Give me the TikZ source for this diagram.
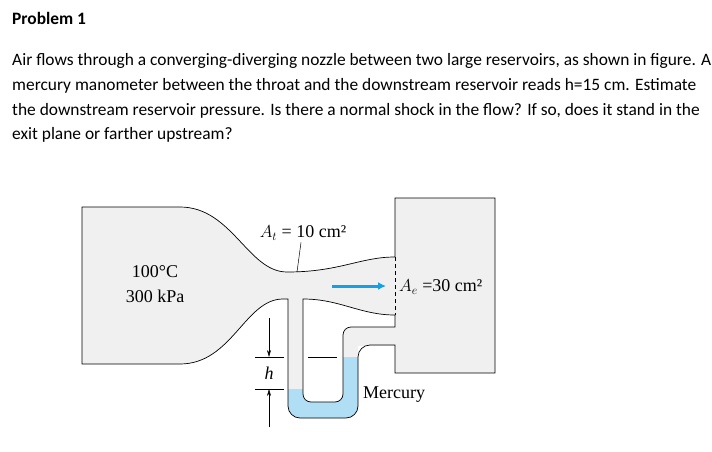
\documentclass[tikz,border=0pt]{standalone}
\usepackage{fontspec}
\setmainfont{Carlito}
\newfontfamily\figfont{Liberation Serif}
\usetikzlibrary{arrows.meta,positioning}
\definecolor{flowblue}{RGB}{20,160,230}
\definecolor{hgblue}{RGB}{175,222,245}

\begin{document}
\begin{tikzpicture}[x=1pt,y=-1pt]
    \tikzstyle{para} = [anchor=west, inner sep=0pt, font=\fontsize{17.4}{20}\selectfont]
    \tikzstyle{lbl} = [inner sep=1pt, font=\figfont\fontsize{18}{20}\selectfont]
    \tikzstyle{wall} = [draw, line width=0.7pt]
    \tikzstyle{dim} = [draw, line width=0.5pt, -{Stealth[length=7pt,width=4pt]}]

    \useasboundingbox (0,0) rectangle (712,452);

    % problem text
    \node[para] (title) at (12,18) {\textbf{Problem 1}};
    \node[para] (l1) at (12,61) {Air flows through a converging-diverging nozzle between two large reservoirs, as shown in figure. A};
    \node[para] (l2) at (12,86) {mercury manometer between the throat and the downstream reservoir reads h=15 cm. Estimate};
    \node[para] (l3) at (12,111) {the downstream reservoir pressure. Is there a normal shock in the flow? If so, does it stand in the};
    \node[para] (l4) at (12,135) {exit plane or farther upstream?};

    % gas region
    \fill[black!6]
        (82,207) -- (180,207) .. controls (232,207) and (248,272) .. (287,272)
        .. controls (340,272) and (360,257) .. (395,257) -- (395,198) -- (495,198)
        -- (495,373) -- (395,373) -- (395,315)
        .. controls (360,315) and (340,299) .. (303,299)
        -- (283,299) .. controls (245,299) and (232,364) .. (180,364) -- (82,364) -- cycle;
    \fill[black!6] (288,298) rectangle (303,390);
    \fill[black!6] (343,326) rectangle (395,346);
    \fill[black!6] (343,330) rectangle (358,358);

    % mercury
    \fill[hgblue]
        (288,389) [rounded corners=12pt] -- (288,418) -- (358,418) [sharp corners] -- (358,357) -- (343,357)
        [rounded corners=8pt] -- (343,402) -- (303,402) [sharp corners] -- (303,389) -- cycle;
    \fill[white]
        (303,299) .. controls (340,299) and (360,315) .. (395,315) -- (395,327)
        [rounded corners=8pt] -- (343,327) -- (343,402) -- (303,402) [sharp corners] -- cycle;

    % walls
    \path[wall] (395,257) -- (395,198) -- (495,198) -- (495,373) -- (395,373) -- (395,345)
        [rounded corners=12pt] -- (358,345) -- (358,418) -- (288,418) [sharp corners] -- (288,299)
        -- (283,299) .. controls (245,299) and (232,364) .. (180,364) -- (82,364) -- (82,207)
        -- (180,207) .. controls (232,207) and (248,272) .. (287,272)
        .. controls (340,272) and (360,257) .. (395,257);
    \path[wall] (303,299) .. controls (340,299) and (360,315) .. (395,315) -- (395,327)
        [rounded corners=8pt] -- (343,327) -- (343,402) -- (303,402) [sharp corners] -- cycle;
    \draw[line width=0.5pt, dash pattern=on 4pt off 3pt] (395,257) -- (395,315);

    % flow arrow
    \coordinate (flowA) at (332,286);
    \coordinate (flowB) at (386,286);
    \draw[flowblue, line width=3pt, -{Latex[length=8pt,width=8pt]}] (flowA) -- (flowB);

    % h dimension
    \draw[line width=0.5pt] (255,357) -- (284,357) (308,357) -- (337,357) (255,389) -- (284,389);
    \coordinate (hTop) at (269,318);
    \coordinate (hUp) at (269,357);
    \coordinate (hBot) at (269,427);
    \coordinate (hLow) at (269,389);
    \path[dim] (hTop) -- (hUp);
    \path[dim] (hBot) -- (hLow);
    \node[lbl, font=\figfont\itshape\fontsize{18}{20}\selectfont, fill=white] (h) at (269,373) {h};

    % labels
    \node[lbl] (temp) at (155,272) {100°C};
    \node[lbl] (press) at (155,296) {300 kPa};
    \node[lbl] (At) at (303,233) {$A_t$ = 10 cm²};
    \coordinate (throat) at (297,272);
    \draw[line width=0.5pt] (At.south) ++(-2,1) -- (throat);
    \node[lbl, anchor=west] (Ae) at (398,287) {$A_e$ =30 cm²};
    \node[lbl, anchor=west] (hg) at (362,395) {Mercury};
\end{tikzpicture}
\end{document}
